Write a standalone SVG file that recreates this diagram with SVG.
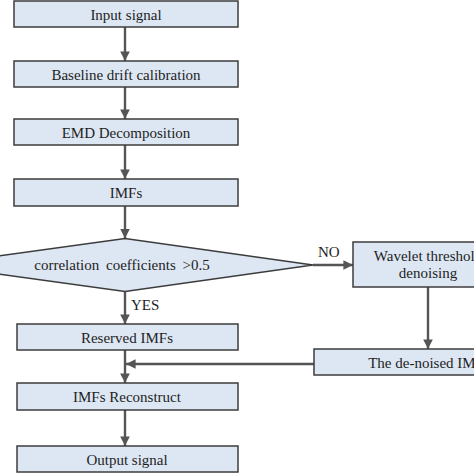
<svg xmlns="http://www.w3.org/2000/svg" width="474" height="474" viewBox="0 0 474 474">
<defs>
<style>
.box{fill:#dde7f3;stroke:#3c3c3c;stroke-width:1.5}
.t{font-family:"Liberation Serif","Times New Roman",serif;font-size:15px;fill:#1e1e1e;text-anchor:middle}
.lbl{font-family:"Liberation Serif","Times New Roman",serif;font-size:15px;fill:#1e1e1e}
.c{fill:none;stroke:#555;stroke-width:2.4}
</style>
<marker id="ah" viewBox="0 0 10 10" refX="10" refY="5" markerWidth="4" markerHeight="4" orient="auto" markerUnits="strokeWidth">
<path d="M0,0 L10,5 L0,10 z" fill="#555"/>
</marker>
</defs>
<rect width="474" height="474" fill="#ffffff"/>
<g id="connectors">
<line class="c" x1="125" y1="27" x2="125" y2="61" marker-end="url(#ah)"/>
<line class="c" x1="125" y1="87" x2="125" y2="119" marker-end="url(#ah)"/>
<line class="c" x1="125" y1="145" x2="125" y2="179" marker-end="url(#ah)"/>
<line class="c" x1="125" y1="206" x2="125" y2="238.5" marker-end="url(#ah)"/>
<line class="c" x1="125" y1="291.5" x2="125" y2="324" marker-end="url(#ah)"/>
<line class="c" x1="313" y1="265" x2="353" y2="265" marker-end="url(#ah)"/>
<line class="c" x1="428" y1="287" x2="428" y2="349" marker-end="url(#ah)"/>
<line class="c" x1="314" y1="364" x2="126" y2="364" marker-end="url(#ah)"/>
<line class="c" x1="125" y1="350" x2="125" y2="383" marker-end="url(#ah)"/>
<line class="c" x1="125" y1="410" x2="125" y2="446" marker-end="url(#ah)"/>
<text class="lbl" x="318" y="257">NO</text>
<text class="lbl" x="131" y="310">YES</text>
</g>
<g id="n1"><rect class="box" x="14" y="1" width="224" height="26"/><text class="t" x="126" y="19.5">Input signal</text></g>
<g id="n2"><rect class="box" x="14" y="61" width="224" height="26"/><text class="t" x="126" y="79.5">Baseline drift calibration</text></g>
<g id="n3"><rect class="box" x="14" y="119" width="224" height="26"/><text class="t" x="126" y="137.5">EMD Decomposition</text></g>
<g id="n4"><rect class="box" x="14" y="179" width="224" height="27"/><text class="t" x="126" y="198">IMFs</text></g>
<g id="n5"><polygon class="box" points="-68,265 125,238.5 313,265 125,291.5"/><text class="t" x="122" y="270" word-spacing="3">correlation coefficients &gt;0.5</text></g>
<g id="n6"><rect class="box" x="353" y="242" width="150" height="45"/><text class="t" x="428" y="261">Wavelet threshold</text><text class="t" x="428" y="278">denoising</text></g>
<g id="n7"><rect class="box" x="17" y="324" width="221" height="26"/><text class="t" x="127" y="342.5">Reserved IMFs</text></g>
<g id="n8"><rect class="box" x="314" y="349" width="230" height="26"/><text class="t" x="429" y="367.5">The de-noised IMFs</text></g>
<g id="n9"><rect class="box" x="17" y="383" width="221" height="27"/><text class="t" x="127" y="402">IMFs Reconstruct</text></g>
<g id="n10"><rect class="box" x="17" y="446" width="221" height="26"/><text class="t" x="127" y="464.5">Output signal</text></g>
</svg>
